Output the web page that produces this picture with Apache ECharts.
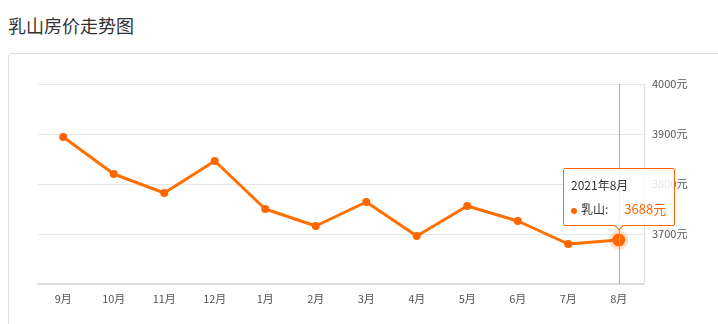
<!DOCTYPE html>
<html>
<head>
<meta charset="utf-8">
<script src="https://cdn.jsdelivr.net/npm/echarts@6/dist/echarts.min.js"></script>
<style>
html,body{margin:0;padding:0;background:#fff;overflow:hidden;}
#title{position:absolute;left:8px;top:12px;font:18px "Noto Sans CJK SC","Noto Sans",sans-serif;color:#333;line-height:26px;}
#panel{position:absolute;left:8px;top:53px;width:730px;height:300px;border:1px solid #dcdcdc;border-radius:4px;box-sizing:border-box;}
#chart{position:absolute;left:0;top:0;width:718px;height:324px;}
</style>
</head>
<body>
<div id="title">乳山房价走势图</div>
<div id="panel"></div>
<div id="chart"></div>
<script>
var months = ['9月','10月','11月','12月','1月','2月','3月','4月','5月','6月','7月','8月'];
var periods = ['2020年9月','2020年10月','2020年11月','2020年12月','2021年1月','2021年2月','2021年3月','2021年4月','2021年5月','2021年6月','2021年7月','2021年8月'];
var prices = [3894, 3820, 3782, 3846, 3750, 3716, 3764, 3696, 3756, 3726, 3680, 3688];
var seriesName = '乳山';
var unit = '元';
var yMin = 3600, yMax = 4000, yStep = 100;
var focusIndex = 11;

var chart = echarts.init(document.getElementById('chart'), null, {renderer:'canvas'});
var font = '"Noto Sans CJK SC","Noto Sans",sans-serif';
chart.setOption({
  animation: false,
  textStyle: {fontFamily: font},
  grid: {left: 38, right: 74, top: 84, bottom: 40},
  tooltip: {
    trigger: 'item',
    position: 'top',
    backgroundColor: 'rgba(255,255,255,0.85)',
    borderColor: '#ff6600',
    borderWidth: 1,
    padding: [6, 8, 6, 7],
    textStyle: {color: '#333', fontSize: 12, fontFamily: font},
    extraCssText: 'box-shadow:none;border-radius:2px;',
    transitionDuration: 0,
    formatter: function (p) {
      return '<div style="line-height:20px;font-size:12px;color:#333">' + periods[p.dataIndex] + '</div>' +
        '<div style="line-height:20px;margin-top:4px;font-size:12px;color:#333">' +
        '<span style="display:inline-block;width:6px;height:6px;border-radius:3px;background:#ff6600;margin-right:4px;vertical-align:middle"></span>' +
        p.seriesName + ':<span style="display:inline-block;width:16px"></span><span style="color:#ff6600;font-size:13px">' + p.value + unit + '</span></div>';
    }
  },
  xAxis: {
    type: 'category',
    data: months,
    boundaryGap: true,
    axisLine: {lineStyle: {color: '#dddddd', width: 2}},
    axisTick: {alignWithLabel: true, length: 4, lineStyle: {color: '#cccccc'}},
    axisLabel: {color: '#555', fontSize: 11, margin: 9, fontFamily: font},
    splitLine: {show: false}
  },
  yAxis: {
    type: 'value',
    position: 'right',
    min: yMin, max: yMax, interval: yStep,
    axisLine: {show: true, lineStyle: {color: '#dddddd', width: 1}},
    axisTick: {show: false},
    axisLabel: {color: '#555', fontSize: 11, margin: 8, showMinLabel: false, formatter: function (v) { return v + unit; }, fontFamily: font},
    splitLine: {lineStyle: {color: '#e6e6e6', width: 1}}
  },
  series: [{
    name: seriesName,
    type: 'line',
    data: prices,
    symbol: 'circle',
    symbolSize: 8,
    lineStyle: {color: '#ff6600', width: 3},
    itemStyle: {color: '#ff6600'},
    emphasis: {
      scale: 1.6,
      focus: 'none',
      lineStyle: {width: 3},
      itemStyle: {color: '#ff6600', borderColor: 'rgba(255,102,0,0.22)', borderWidth: 6}
    },
    markLine: {
      silent: true,
      symbol: 'none',
      label: {show: false},
      lineStyle: {color: '#aaaaaa', width: 1, type: 'solid'},
      data: [{xAxis: months[focusIndex]}]
    },
    z: 3
  }]
});
chart.dispatchAction({type: 'highlight', seriesIndex: 0, dataIndex: focusIndex});
chart.dispatchAction({type: 'showTip', seriesIndex: 0, dataIndex: focusIndex});
</script>
</body>
</html>
